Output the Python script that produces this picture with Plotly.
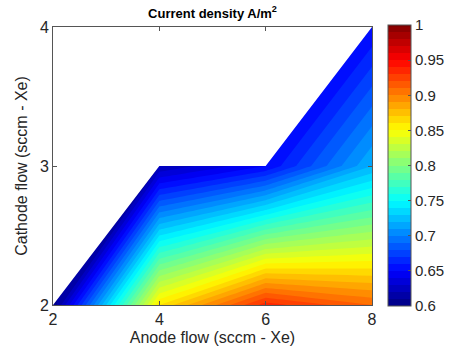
import plotly.graph_objects as go

# ---- data ----
anode_flow = [2, 4, 6, 8]          # sccm - Xe (x)
cathode_flow = [2, 3, 4]           # sccm - Xe (y)
# current density, rows = cathode flow, cols = anode flow (None = not measured)
density_c2 = [0.60, 0.86, 0.935, 0.91]
density_c3 = [None, 0.62, 0.65, 0.72]
density_c4 = [None, None, None, 0.65]
# upper boundary of the measured domain for each anode flow
domain_top = [2, 3, 3, 4]

cbar_ticks = [0.6, 0.65, 0.7, 0.75, 0.8, 0.85, 0.9, 0.95, 1.0]

jet = [
    [0.0, "rgb(0,0,128)"],
    [0.125, "rgb(0,0,255)"],
    [0.375, "rgb(0,255,255)"],
    [0.625, "rgb(255,255,0)"],
    [0.875, "rgb(255,0,0)"],
    [1.0, "rgb(128,0,0)"],
]

FONT = "Liberation Sans, Arial, sans-serif"
TXT = "#262626"
AX = "#555555"

fig = go.Figure()
fig.add_trace(go.Contour(
    x=anode_flow,
    y=cathode_flow,
    z=[density_c2, density_c3, density_c4],
    colorscale=jet,
    zauto=False, zmin=0.6, zmax=1.0,
    contours=dict(start=0.6, end=1.0, size=0.01, coloring="fill", showlines=False),
    line=dict(width=0, smoothing=0),
    colorbar=dict(
        x=1.05, xanchor="left", xpad=0,
        y=1.007, yanchor="top", ypad=0,
        len=1.011, lenmode="fraction",
        thickness=23,
        outlinecolor=AX, outlinewidth=1,
        tickvals=cbar_ticks,
        ticktext=[("%g" % v) for v in cbar_ticks],
        ticks="inside", ticklen=3, tickcolor=AX,
        tickfont=dict(family=FONT, size=15, color=TXT),
    ),
    hoverinfo="skip",
))

# white mask over the unmeasured (upper-left) region, built from the domain boundary
pad = 0.1
mask_x = [anode_flow[0] - pad] + anode_flow + [anode_flow[-1] + pad, anode_flow[-1] + pad, anode_flow[0] - pad]
mask_y = [domain_top[0]] + domain_top + [domain_top[-1], cathode_flow[-1] + pad, cathode_flow[-1] + pad]
fig.add_trace(go.Scatter(
    x=mask_x, y=mask_y, mode="none", fill="toself", fillcolor="white",
    showlegend=False, hoverinfo="skip",
))

fig.update_layout(
    width=474, height=355,
    margin=dict(l=53, r=102, t=27, b=50),
    paper_bgcolor="white", plot_bgcolor="white",
    showlegend=False,
    title=dict(
        text="<b>Current density A/m<sup>2</sup></b>",
        x=(53 + 372) / 2 / 474, xanchor="center",
        y=1 - 13 / 355, yanchor="middle",
        font=dict(family=FONT, size=13, color="black"),
    ),
    xaxis=dict(
        range=[2, 8], tickvals=anode_flow,
        ticks="inside", ticklen=4, tickcolor=AX,
        showline=True, linecolor=AX, linewidth=1, mirror="ticks",
        showgrid=False, zeroline=False,
        tickfont=dict(family=FONT, size=16, color=TXT),
        title=dict(text="Anode flow (sccm - Xe)", font=dict(family=FONT, size=16, color=TXT), standoff=4),
        layer="above traces",
    ),
    yaxis=dict(
        range=[2, 4], tickvals=cathode_flow,
        ticks="inside", ticklen=4, tickcolor=AX,
        showline=True, linecolor=AX, linewidth=1, mirror="ticks",
        showgrid=False, zeroline=False,
        tickfont=dict(family=FONT, size=16, color=TXT),
        title=dict(text="Cathode flow (sccm - Xe)", font=dict(family=FONT, size=16, color=TXT), standoff=8),
        layer="above traces",
    ),
)

fig.write_html("out.html")
